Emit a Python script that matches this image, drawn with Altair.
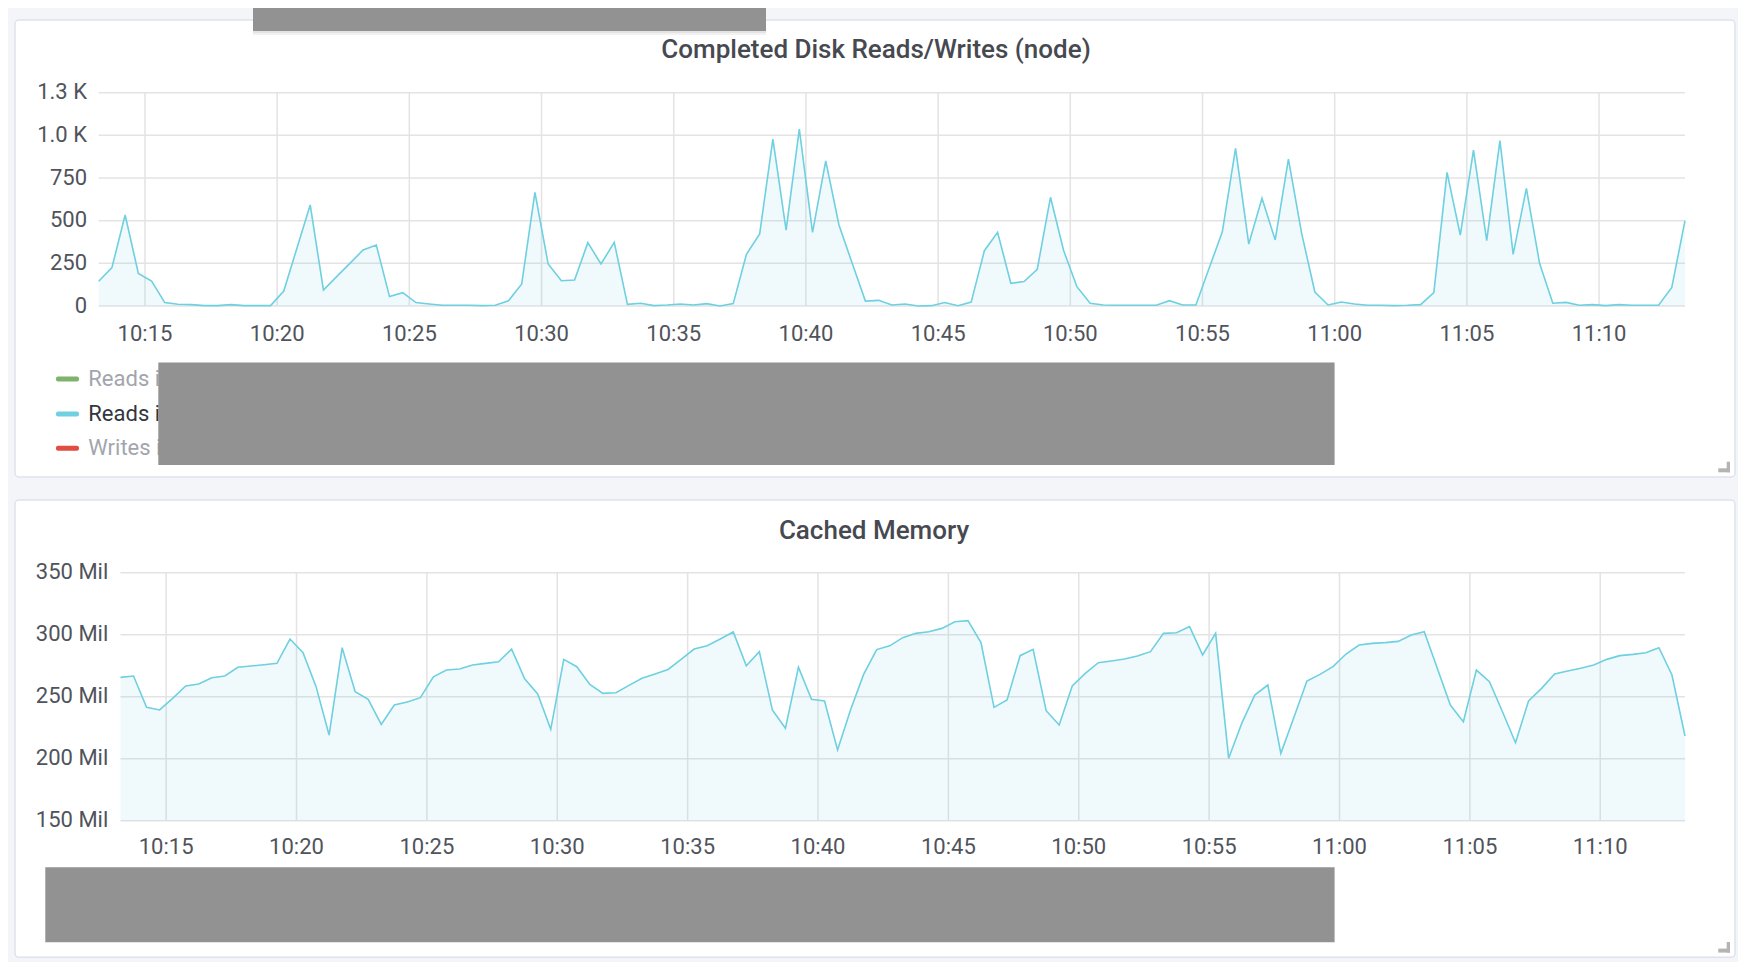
import altair as alt
import pandas as pd

# ---------------- data ----------------
START = "2024-01-01 10:13:15"
N_POINTS = 121
times = pd.date_range(START, periods=N_POINTS, freq="30s")

disk_reads = [
    145, 225, 533, 191, 146, 20, 10, 8, 2, 2, 8, 2, 2, 2, 88, 340, 592, 94, 172, 250,
    328, 357, 55, 78, 20, 12, 4, 4, 4, 2, 4, 31, 129, 666, 246, 148, 152, 371, 246, 373,
    10, 16, 2, 6, 12, 6, 14, 0, 14, 303, 422, 978, 445, 1037, 432, 850, 475, 250, 29, 33,
    6, 12, 0, 2, 20, 2, 23, 324, 432, 133, 143, 215, 637, 324, 113, 16, 6, 4, 4, 4,
    4, 31, 6, 6, 221, 435, 924, 363, 631, 387, 861, 426, 82, 6, 23, 12, 4, 4, 2, 4,
    8, 78, 783, 416, 914, 383, 969, 303, 689, 250, 16, 21, 4, 8, 2, 8, 4, 4, 4, 109,
    500,
]

cached_mem_mil = [
    265.6, 266.7, 241.4, 239.3, 248.7, 258.6, 260.2, 265.3, 266.7, 273.7,
    274.7, 275.8, 276.9, 296.5, 285.5, 258.1, 219.1, 289.5, 254.0, 247.9,
    227.7, 243.3, 245.7, 249.2, 266.1, 271.5, 272.3, 275.5, 276.9, 278.2,
    288.4, 264.5, 252.2, 223.7, 280.1, 274.2, 259.9, 252.7, 253.2, 259.1,
    264.8, 268.3, 272.0, 280.1, 288.4, 291.1, 296.5, 302.2, 275.0, 286.3,
    239.3, 224.5, 273.7, 247.9, 246.5, 207.0, 239.5, 268.0, 288.0, 291.0,
    297.6, 301.1, 302.4, 305.1, 310.5, 311.3, 293.6, 241.4, 247.3, 283.1,
    288.2, 238.7, 227.2, 258.6, 268.8, 277.4, 278.8, 280.4, 282.8, 286.3,
    301.1, 301.6, 306.5, 283.6, 301.1, 200.3, 228.5, 251.3, 259.4, 204.3,
    233.3, 262.6, 268.0, 274.2, 284.4, 291.7, 293.0, 293.6, 294.6, 299.7,
    302.4, 272.9, 243.3, 229.8, 271.5, 262.1, 237.9, 212.9, 246.5, 256.7,
    268.3, 270.7, 272.9, 275.5, 280.1, 283.1, 284.1, 285.5, 289.5, 267.5,
    218.3,
]

x_tick_minutes = [(10, 15), (10, 20), (10, 25), (10, 30), (10, 35), (10, 40),
                  (10, 45), (10, 50), (10, 55), (11, 0), (11, 5), (11, 10)]
x_tick_strings = [f"2024-01-01T{h:02d}:{m:02d}:00" for h, m in x_tick_minutes]

top_y_ticks = [0, 250, 500, 750, 1000, 1250]
top_y_labels = ["0", "250", "500", "750", "1.0 K", "1.3 K"]
bot_y_ticks = [150, 200, 250, 300, 350]
bot_y_labels = ["150 Mil", "200 Mil", "250 Mil", "300 Mil", "350 Mil"]

top_title = "Completed Disk Reads/Writes (node)"
bot_title = "Cached Memory"
legend_labels = ["Reads i", "Reads i", "Writes i"]
legend_colors = ["#7eb26d", "#6ed0e0", "#e24d42"]
legend_text_colors = ["#a2a5ad", "#33363d", "#a2a5ad"]

# ---------------- style / layout (chart pixel coords) ----------------
FONT = "Roboto"
TEXT = "#50535b"
TITLE_C = "#464950"
GRID = "#e3e3e3"
SERIES = "#6ed0e0"
PAGE_BG = "#f4f5f9"
PANEL_STROKE = "#dde2eb"
REDACT = "#929292"
HANDLE = "#b4b4b4"

CW, CH = 1730, 954

# plot areas
T_X0, T_X1, T_Y0, T_Y1 = 90.7, 1677, 84.7, 298      # top: left,right,top,bottom
B_X0, B_X1, B_Y0, B_Y1 = 112.5, 1677, 564.7, 812.7  # bottom

t_start = alt.DateTime(year=2024, month=1, date=1, hours=10, minutes=13, seconds=15)
t_end = alt.DateTime(year=2024, month=1, date=1, hours=11, minutes=13, seconds=15)

xs_top = alt.Scale(domain=[t_start, t_end], range=[T_X0, T_X1], nice=False)
ys_top = alt.Scale(domain=[0, 1250], range=[T_Y1, T_Y0], nice=False, zero=False)
xs_bot = alt.Scale(domain=[t_start, t_end], range=[B_X0, B_X1], nice=False)
ys_bot = alt.Scale(domain=[150, 350], range=[B_Y1, B_Y0], nice=False, zero=False)

df_top = pd.DataFrame({"t": times, "v": disk_reads})
df_bot = pd.DataFrame({"t": times, "v": cached_mem_mil})
df_xt = pd.DataFrame({"t": x_tick_strings})
df_yt_top = pd.DataFrame({"v": top_y_ticks, "lab": top_y_labels})
df_yt_bot = pd.DataFrame({"v": bot_y_ticks, "lab": bot_y_labels})
one = pd.DataFrame({"k": [0]})


def box(x1, x2, y1, y2, **kw):
    return alt.Chart(one).mark_rect(**kw).encode(
        x=alt.value(x1), x2=alt.value(x2), y=alt.value(y1), y2=alt.value(y2))


def text_at(s, x, y, **kw):
    return alt.Chart(pd.DataFrame({"s": [s]})).mark_text(font=FONT, **kw).encode(
        x=alt.value(x), y=alt.value(y), text="s:N")


def panel_layers(df, xs, ys, ybase, X0, X1, Y0, Y1, df_yt, ylab_right, xlab_base,
                 panel_y0, panel_y1, title, title_x, title_base):
    L = []
    L.append(box(7, 1727, panel_y0, panel_y1, fill="white", stroke=PANEL_STROKE,
                 strokeWidth=1.5, cornerRadius=4))
    # grid lines
    L.append(alt.Chart(df_yt).mark_rule(color=GRID, strokeWidth=1.5).encode(
        y=alt.Y("v:Q", scale=ys, axis=None), x=alt.value(X0), x2=alt.value(X1)))
    L.append(alt.Chart(df_xt).mark_rule(color=GRID, strokeWidth=1.5).encode(
        x=alt.X("t:T", scale=xs, axis=None), y=alt.value(Y0), y2=alt.value(Y1)))
    # series
    L.append(alt.Chart(df).mark_area(color=SERIES, fillOpacity=0.1).encode(
        x=alt.X("t:T", scale=xs, axis=None), y=alt.Y("v:Q", scale=ys, axis=None),
        y2=alt.datum(ybase)))
    L.append(alt.Chart(df).mark_line(color=SERIES, strokeWidth=1.6).encode(
        x=alt.X("t:T", scale=xs, axis=None), y=alt.Y("v:Q", scale=ys, axis=None)))
    # axis labels
    L.append(alt.Chart(df_yt).mark_text(font=FONT, fontSize=22, color=TEXT, align="right",
                                        baseline="alphabetic", dy=6.7).encode(
        y=alt.Y("v:Q", scale=ys, axis=None), x=alt.value(ylab_right), text="lab:N"))
    L.append(alt.Chart(df_xt).mark_text(font=FONT, fontSize=22, color=TEXT, align="center",
                                        baseline="alphabetic").encode(
        x=alt.X("t:T", scale=xs, axis=None), y=alt.value(xlab_base),
        text=alt.Text("t:T", format="%H:%M")))
    # title
    L.append(text_at(title, title_x, title_base, fontSize=26, fontWeight=500, color=TITLE_C,
                     align="center", baseline="alphabetic"))
    # resize handle
    L.append(box(1718.7, 1722, panel_y1 - 15.3, panel_y1 - 4.7, fill=HANDLE))
    L.append(box(1710.3, 1722, panel_y1 - 8.7, panel_y1 - 4.7, fill=HANDLE))
    return L


layers = []
layers += panel_layers(df_top, xs_top, ys_top, 0, T_X0, T_X1, T_Y0, T_Y1, df_yt_top, 79,
                       333.3, 12, 469, top_title, 868, 49.7)
layers += panel_layers(df_bot, xs_bot, ys_bot, 150, B_X0, B_X1, B_Y0, B_Y1, df_yt_bot, 100.3,
                       846, 492, 949.3, bot_title, 866, 530.7)

# legend of the top panel
for lab, col, tcol, yy in zip(legend_labels, legend_colors, legend_text_colors, [371, 406, 440.3]):
    layers.append(box(48, 71, yy - 2.5, yy + 2.5, fill=col, cornerRadius=2))
    layers.append(text_at(lab, 80.3, yy + 7, fontSize=22, color=tcol, align="left",
                          baseline="alphabetic"))

# redaction boxes (as in the source image)
layers.append(box(245, 758, 23, 27, fill="#000000", opacity=0.05))
layers.append(box(245, 758, 23, 25, fill="#000000", opacity=0.06))
layers.append(box(245, 758, 0, 23, fill=REDACT))
layers.append(box(150.3, 1326.6, 354.5, 457, fill=REDACT))
layers.append(box(37.3, 1326.6, 859.3, 934.3, fill=REDACT))

chart = alt.layer(*layers).resolve_scale(x="independent", y="independent").properties(
    width=CW, height=CH,
    autosize=alt.AutoSizeParams(type="none"),
    padding=0,
    background=PAGE_BG,
).configure_view(stroke=None)

chart.save("out.html", embed_options={"renderer": "svg", "actions": False})
